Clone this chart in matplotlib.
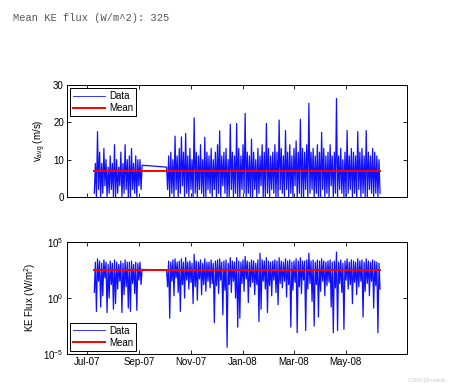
import numpy as np
import matplotlib.pyplot as plt
from matplotlib.ticker import NullLocator, FixedLocator

plt.rcParams['font.family'] = 'Liberation Sans'
plt.rcParams['mathtext.default'] = 'regular'

# ------------------------------------------------------------
# Valores (picos y valles cada ~2.5 dias)
seg1_start = np.datetime64('2007-07-10T00')
seg2_start = np.datetime64('2007-10-03T00')

tick_dates = np.array(['2007-07-01', '2007-09-01', '2007-11-01',
                       '2008-01-01', '2008-03-01', '2008-05-01'], dtype='datetime64[D]')
tick_labels = ['Jul-07', 'Sep-07', 'Nov-07', 'Jan-08', 'Mar-08', 'May-08']

# velocidad media v_avg (m/s), tramo 1 (jul-sep 2007)
v1_peak = [9, 17.5, 12, 9, 13, 10, 8, 11, 9, 14, 10, 8, 12, 9, 14, 10, 11, 13, 9, 11, 10, 10, 8.5]
v1_low = [1, 0, 2, 0, 1, 3, 0, 1, 2, 0, 0, 1, 3, 0, 1, 2, 0, 0, 2, 1, 0, 3, 2]

# velocidad media v_avg (m/s), tramo 2 (oct 2007 - jun 2008)
v2_peak = [8, 11, 12, 10, 16.3, 11, 13, 16.1, 12, 17,
           11, 13, 10, 21.2, 12, 11, 14, 10, 16, 12,
           11, 13, 10, 12, 14, 17.7, 11, 12, 13, 10,
           19.5, 12, 11, 19.7, 13, 11, 14, 22.4, 12, 11,
           15.5, 12, 10, 13, 11, 14, 12, 19.7, 13, 11,
           12, 14, 12, 20.6, 13, 11, 17.8, 12, 14, 11,
           13, 15, 12, 20.8, 13, 12, 14, 25.1, 12, 13,
           11, 14, 12, 17.3, 13, 11, 12, 14, 11, 12,
           26.4, 11, 13, 10, 12, 17.8, 11, 13, 12, 11,
           17.5, 12, 13, 11, 17.8, 12, 11, 13, 12, 11, 10]
v2_low = [2, 0, 1, 0, 2, 0, 1, 3, 0, 1,
          0, 2, 0, 1, 0, 2, 1, 0, 0, 2,
          1, 0, 2, 0, 1, 0, 3, 1, 0, 0,
          2, 0, 1, 0, 0, 2, 1, 0, 1, 0,
          0, 2, 0, 1, 3, 0, 0, 1, 0, 2,
          1, 0, 0, 2, 1, 0, 2, 0, 1, 0,
          3, 0, 1, 0, 0, 2, 0, 1, 2, 0,
          1, 0, 0, 2, 0, 1, 0, 3, 0, 1,
          0, 2, 1, 0, 0, 1, 2, 0, 1, 0,
          2, 0, 1, 0, 0, 2, 1, 0, 1, 0, 1]

# flujo KE (W/m^2), exponentes log10, tramo 1
f1_peak_exp = [3.2, 3.5, 3.3, 3.1, 3.4, 3.2, 3.0, 3.3, 3.1, 3.4, 3.2, 3.0,
               3.3, 3.1, 3.4, 3.2, 3.2, 3.3, 3.0, 3.2, 3.1, 3.2, 2.55]
f1_low_exp = [0.5, -1.2, 1.5, -0.8, 0.2, 1.8, -1.3, 0.0, 1.2, -1.0, -0.5, 0.8,
              1.5, -1.3, 0.3, 1.0, -0.9, -1.2, 1.3, 0.4, -1.1, 1.6, 1.2]

# flujo KE (W/m^2), exponentes log10, tramo 2
f2_peak_exp = [2.5, 3.3, 3.2, 3.4, 3.5, 3.2, 3.3, 3.5, 3.2, 3.6,
               3.2, 3.3, 3.1, 3.9, 3.3, 3.2, 3.4, 3.1, 3.5, 3.2,
               3.2, 3.4, 3.1, 3.3, 3.4, 3.5, 3.2, 3.3, 3.4, 3.1,
               3.6, 3.3, 3.2, 3.6, 3.3, 3.2, 3.4, 3.7, 3.3, 3.2,
               3.4, 3.3, 3.1, 3.4, 4.0, 3.4, 3.3, 3.6, 3.3, 3.2,
               3.3, 3.4, 3.3, 3.6, 3.3, 3.2, 3.5, 3.3, 3.4, 3.2,
               3.3, 3.5, 3.3, 3.6, 3.3, 3.3, 3.4, 4.0, 3.3, 3.4,
               3.2, 3.4, 3.3, 3.5, 3.3, 3.2, 3.3, 3.4, 3.2, 3.3,
               4.1, 3.2, 3.4, 3.1, 3.3, 3.5, 3.2, 3.4, 3.3, 3.2,
               3.5, 3.3, 3.4, 3.2, 3.5, 3.3, 3.2, 3.4, 3.3, 3.2, 3.1]
f2_low_exp = [1.0, -1.8, 1.5, 0.2, 1.8, 0.5, -1.2, 1.2, 0.0, 1.6,
              0.8, 1.4, -0.5, 1.0, -0.2, 1.7, 0.3, 1.2, 0.6, 1.5,
              0.9, 1.3, -2.2, 1.1, 0.4, 1.6, -1.5, 0.7, -4.4, 1.2,
              0.5, 1.5, 0.0, -2.6, -1.8, 1.3, 0.6, 1.7, -0.4, 1.0,
              1.4, 0.3, 1.2, -2.1, -1.0, 1.5, 0.8, -1.3, 1.1, 0.2,
              1.6, 0.5, -0.6, 1.3, 0.9, 1.5, 0.1, 1.2, -2.6, 0.7,
              1.4, -3.1, 1.0, 0.4, 1.6, -2.9, 0.8, 1.3, -0.3, -2.5,
              1.2, -1.7, 0.6, 1.5, 0.2, 1.1, 1.4, -0.8, -3.1, 0.9,
              -2.9, 1.3, 0.5, -2.8, 1.6, 0.8, 1.2, -0.5, 1.4, 0.3,
              1.0, 1.5, -1.7, 0.6, 1.3, 0.2, 1.5, -0.9, 1.1, -3.1, 0.8]

v_mean = 7.0
flux_mean = 325


# Intercala valores (a, b, a, b, ...) cada 30 horas a partir de start
def interleave(start, first, second):
    n = len(first)
    t = start + np.arange(2 * n) * np.timedelta64(30, 'h')
    v = np.empty(2 * n)
    v[0::2] = first
    v[1::2] = second
    return t, v


t1, v1 = interleave(seg1_start, v1_low, v1_peak)
t2, v2 = interleave(seg2_start, v2_peak, v2_low)
_, f1 = interleave(seg1_start, f1_low_exp, f1_peak_exp)
_, f2 = interleave(seg2_start, f2_peak_exp, f2_low_exp)

t = np.concatenate([t1, t2])
v = np.concatenate([v1, v2])
flux = 10.0 ** np.concatenate([f1, f2])
t_span = [t[0], t[-1]]

# ------------------------------------------------------------
fig = plt.figure(figsize=(4.74, 3.88), dpi=100)
ax1 = fig.add_axes([0.1407, 0.4923, 0.718, 0.2887])
ax2 = fig.add_axes([0.1407, 0.0876, 0.718, 0.2887])

fig.text(0.027, 0.945, 'Mean KE flux (W/m^2): %d' % flux_mean,
         family='Liberation Mono', fontsize=7.5, color='#555555')
fig.text(0.9, 0.016, 'CSDN @Franklin', fontsize=3.5, color='#c8c8c8', ha='center')

ax1.plot(t, v, color='#1010ff', linewidth=0.9, label='Data')
ax1.plot(t_span, [v_mean, v_mean], color='red', linewidth=1.4, label='Mean')
ax1.set_ylim(0, 30)
ax1.set_yticks([0, 10, 20, 30])
ax1.set_ylabel('v$_{avg}$ (m/s)', fontsize=7)

ax2.plot(t, flux, color='#1010ff', linewidth=0.9, label='Data')
ax2.plot(t_span, [flux_mean, flux_mean], color='red', linewidth=1.4, label='Mean')
ax2.set_yscale('log')
ax2.set_ylim(1e-5, 1e5)
ax2.yaxis.set_major_locator(FixedLocator([1e-5, 1e0, 1e5]))
ax2.yaxis.set_minor_locator(NullLocator())
ax2.set_ylabel('KE Flux (W/m$^2$)', fontsize=7)

for ax, loc in [(ax1, 'upper left'), (ax2, 'lower left')]:
    ax.set_xlim(np.datetime64('2007-06-07T12'), np.datetime64('2008-07-12'))
    ax.set_xticks(tick_dates)
    ax.set_xticklabels(tick_labels)
    ax.tick_params(direction='in', top=True, right=True, length=3,
                   width=0.6, labelsize=7, pad=2)
    for s in ax.spines.values():
        s.set_linewidth(0.7)
    leg = ax.legend(loc=loc, fontsize=7, handlelength=3.3, fancybox=False,
                    framealpha=1, edgecolor='black', borderpad=0.3,
                    labelspacing=0.2, handletextpad=0.4, borderaxespad=0.35)
    leg.get_frame().set_linewidth(0.7)
    leg.get_lines()[0].set_linewidth(0.6)

ax1.tick_params(labelbottom=False)

fig.savefig('out.png', dpi=100)
